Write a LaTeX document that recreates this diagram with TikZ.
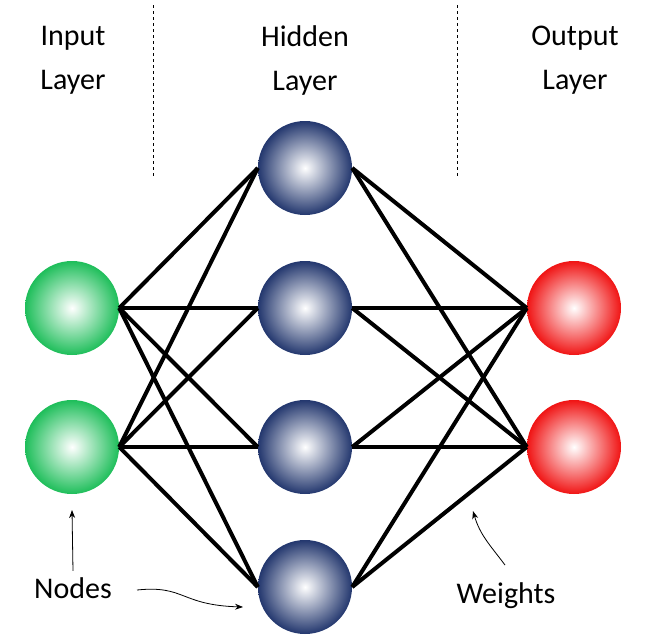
\documentclass[tikz,border=0pt]{standalone}
\usepackage{fontspec}
\setmainfont{Carlito}
\usetikzlibrary{arrows.meta}
\definecolor{gn}{RGB}{30,190,90}
\definecolor{bl}{RGB}{35,55,110}
\definecolor{rd}{RGB}{240,20,20}
\tikzset{
 neuron/.style={circle,minimum size=94pt,inner sep=0pt},
 gneuron/.style={neuron,inner color=white,outer color=gn},
 bneuron/.style={neuron,inner color=white,outer color=bl},
 rneuron/.style={neuron,inner color=white,outer color=rd},
 wire/.style={line width=4pt,black},
 lbl/.style={font=\fontsize{30}{44}\selectfont,align=center},
 pointer/.style={-{Stealth[length=8pt]},line width=0.8pt}
}
\begin{document}
\begin{tikzpicture}[x=1pt,y=-1pt]
\useasboundingbox (0,0) rectangle (654,641);
\node[gneuron] (i1) at (72,308) {};
\node[gneuron] (i2) at (72,447) {};
\node[bneuron] (h1) at (305,168) {};
\node[bneuron] (h2) at (305,308) {};
\node[bneuron] (h3) at (305,447) {};
\node[bneuron] (h4) at (305,587) {};
\node[rneuron] (o1) at (574,308) {};
\node[rneuron] (o2) at (574,447) {};
\begin{scope}[on background layer/.style={}]
\foreach \a in {i1,i2}\foreach \b in {h1,h2,h3,h4}
  \draw[wire] (\a.east) -- (\b.west);
\foreach \a in {h1,h2,h3,h4}\foreach \b in {o1,o2}
  \draw[wire] (\a.east) -- (\b.west);
\end{scope}
\node[lbl] (ti) at (73,60) {Input\\Layer};
\node[lbl] (th) at (305,60) {Hidden\\Layer};
\node[lbl] (to) at (575,60) {Output\\Layer};
\coordinate (d1a) at (153,5); \coordinate (d1b) at (153,178);
\coordinate (d2a) at (457,5); \coordinate (d2b) at (457,178);
\draw[dashed,line width=0.8pt] (d1a) -- (d1b);
\draw[dashed,line width=0.8pt] (d2a) -- (d2b);
\node[lbl] (nl) at (73,588) {Nodes};
\node[lbl] (wl) at (506,596) {Weights};
\draw[pointer] (nl.north) ++(0,-3) -- (72,510);
\coordinate (na) at (137,590);
\coordinate (nb) at (243,607);
\draw[pointer] (na) .. controls (185,585) and (180,605) .. (nb);
\coordinate (wa) at (505,565);
\coordinate (wb) at (473,511);
\draw[pointer] (wa) .. controls (490,545) and (480,535) .. (wb);
\end{tikzpicture}
\end{document}
